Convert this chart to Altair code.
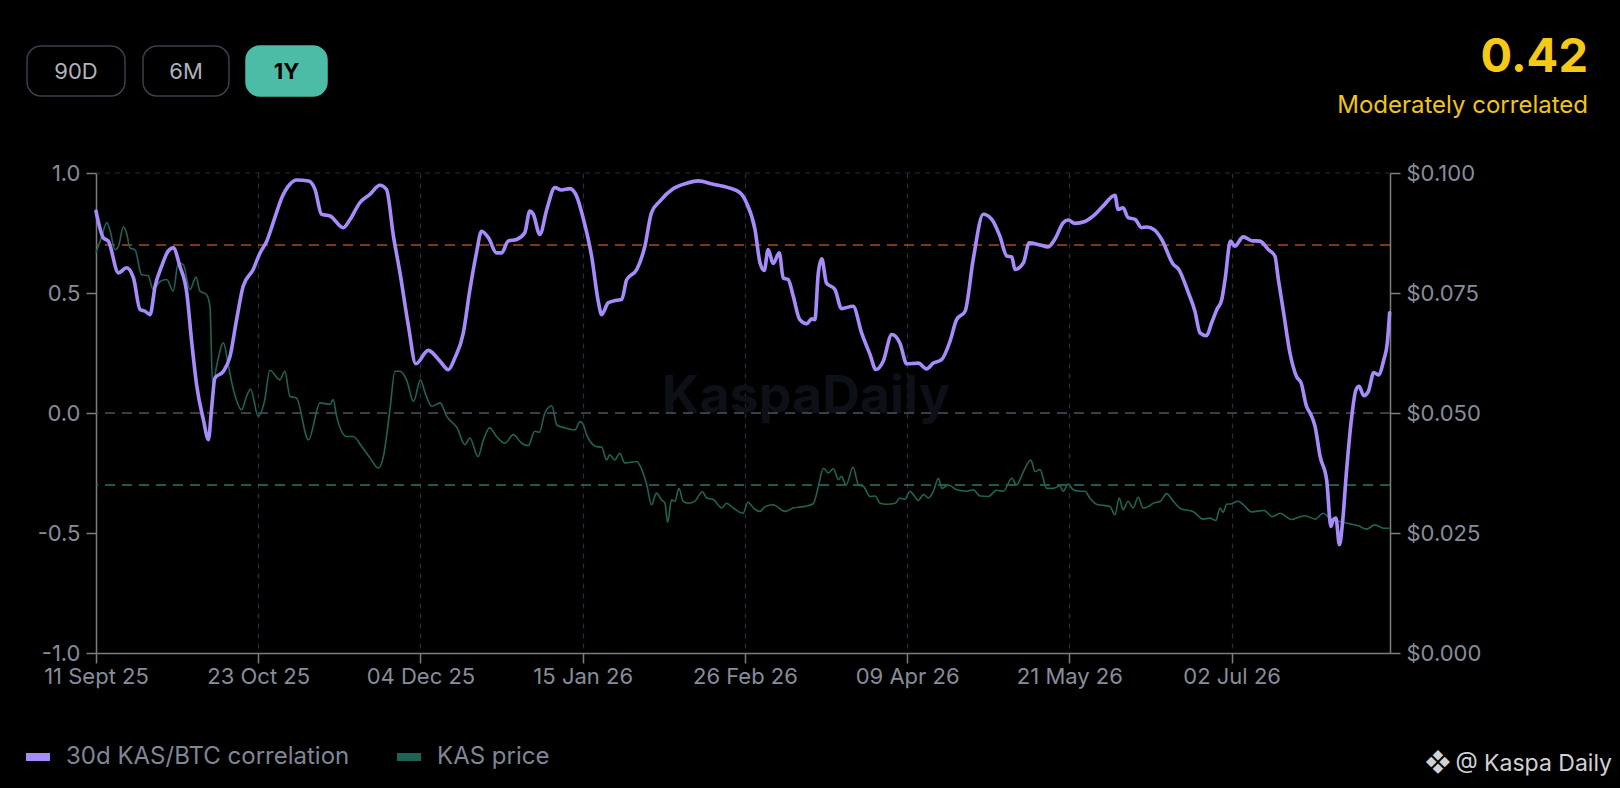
import altair as alt
import pandas as pd
import jinja2

# ---------------- data (x = days since 11 Sept 2025) ----------------
corr_days = [
    0, 1.9, 3.2, 5.8, 7.9, 9.7, 11.4, 12.7, 14.0, 15.3,
    17.0, 18.7, 20.0, 21.7, 23.5, 24.8, 26.1, 27.8, 29.1, 29.9,
    30.8, 33.0, 34.7, 36.4, 38.1, 40.7, 42.5, 44.2, 46.3, 48.1,
    50.2, 51.9, 55.0, 56.7, 58.4, 60.6, 64.0, 65.8, 68.3, 70.9,
    73.5, 75.2, 77.0, 78.7, 80.9, 82.8, 86.0, 89.1, 91.2, 92.9,
    95.1, 96.8, 98.5, 99.8, 101.6, 103.7, 105.0, 106.7, 108.9, 111.0,
    112.3, 113.2, 114.9, 116.7, 118.8, 120.5, 122.7, 124.4, 126.2, 128.3,
    130.1, 130.9, 132.6, 134.8, 136.1, 137.4, 140.0, 142.1, 143.8, 146.0,
    149.5, 152.9, 155.9, 159.8, 163.7, 166.7, 168.4, 170.6, 171.9, 173.0,
    174.0, 175.3, 176.9, 177.9, 179.2, 180.5, 182.2, 184.0, 185.3, 186.1,
    187.0, 187.9, 189.1, 191.3, 193.0, 196.0, 198.2, 200.4, 201.9, 203.8,
    206.0, 208.1, 209.9, 212.9, 215.0, 216.8, 218.9, 221.1, 222.8, 225.0,
    227.1, 229.7, 231.9, 234.0, 235.8, 237.1, 237.9, 240.1, 241.6, 244.4,
    246.5, 248.3, 250.4, 251.7, 253.4, 256.0, 258.2, 260.7, 263.8, 264.6,
    265.9, 267.2, 269.0, 270.7, 272.0, 274.1, 275.9, 278.9, 280.2, 282.8,
    284.5, 285.8, 287.5, 288.8, 290.3, 291.4, 292.3, 293.7, 294.8, 297.0,
    299.2, 301.3, 303.5, 305.2, 306.1, 307.4, 309.1, 310.8, 312.0, 313.4,
    314.3, 315.6, 316.9, 318.6, 319.7, 320.3, 321.0, 321.9, 322.7, 323.7,
    325.0, 326.2, 327.0, 328.2, 329.4, 330.8, 332.0, 333.4, 334.3, 334.9,
]
corr_values = [
    0.841, 0.730, 0.716, 0.584, 0.605, 0.563, 0.431, 0.424, 0.410, 0.528,
    0.612, 0.675, 0.688, 0.612, 0.501, 0.292, 0.111, -0.028, -0.111, 0.014,
    0.146, 0.174, 0.236, 0.389, 0.528, 0.598, 0.668, 0.716, 0.814, 0.897,
    0.953, 0.971, 0.967, 0.932, 0.828, 0.821, 0.772, 0.807, 0.876, 0.911,
    0.949, 0.932, 0.737, 0.584, 0.361, 0.205, 0.261, 0.215, 0.180, 0.229,
    0.334, 0.514, 0.667, 0.757, 0.730, 0.667, 0.667, 0.716, 0.723, 0.751,
    0.841, 0.828, 0.744, 0.848, 0.939, 0.929, 0.935, 0.904, 0.807, 0.654,
    0.459, 0.410, 0.459, 0.470, 0.473, 0.556, 0.598, 0.695, 0.834, 0.883,
    0.935, 0.957, 0.967, 0.953, 0.939, 0.918, 0.876, 0.765, 0.626, 0.594,
    0.681, 0.623, 0.668, 0.563, 0.556, 0.487, 0.389, 0.372, 0.392, 0.389,
    0.584, 0.642, 0.542, 0.515, 0.435, 0.445, 0.334, 0.243, 0.181, 0.216,
    0.327, 0.292, 0.205, 0.208, 0.184, 0.208, 0.222, 0.299, 0.389, 0.424,
    0.640, 0.828, 0.807, 0.737, 0.654, 0.650, 0.598, 0.626, 0.709, 0.700,
    0.692, 0.726, 0.793, 0.804, 0.790, 0.798, 0.821, 0.862, 0.907, 0.848,
    0.855, 0.814, 0.807, 0.772, 0.775, 0.762, 0.723, 0.619, 0.601, 0.501,
    0.424, 0.334, 0.322, 0.375, 0.435, 0.470, 0.556, 0.716, 0.695, 0.734,
    0.718, 0.716, 0.681, 0.654, 0.556, 0.424, 0.250, 0.152, 0.125, 0.027,
    0.0, -0.056, -0.181, -0.279, -0.473, -0.445, -0.438, -0.549, -0.459, -0.251,
    -0.028, 0.097, 0.111, 0.072, 0.090, 0.169, 0.159, 0.222, 0.292, 0.417,
]

price_days = [
    0, 1.5, 2.8, 3.6, 4.9, 5.8, 7.1, 7.9, 8.8, 10.1,
    11.8, 13.5, 14.8, 16.6, 18.3, 20.0, 21.3, 22.6, 24.3, 25.9,
    26.9, 28.6, 29.5, 30.2, 31.2, 33.0, 34.3, 35.6, 37.7, 39.0,
    40.0, 42.0, 43.7, 45.0, 47.6, 48.9, 50.2, 51.9, 55.0, 58.0,
    60.6, 61.4, 62.3, 64.9, 66.6, 68.8, 71.0, 73.1, 74.4, 76.1,
    77.4, 78.7, 80.4, 82.2, 84.0, 85.2, 86.9, 89.1, 90.8, 93.5,
    95.5, 96.8, 98.9, 100.3, 101.9, 103.7, 105.9, 108.0, 110.2, 111.9,
    113.6, 114.8, 116.2, 118.0, 119.3, 121.4, 124.0, 125.3, 126.2, 127.0,
    129.6, 130.9, 132.2, 133.0, 134.3, 135.6, 136.9, 140.0, 141.3, 142.6,
    143.8, 145.1, 146.4, 147.3, 148.0, 149.0, 149.9, 150.9, 152.0, 153.3,
    155.0, 157.0, 158.1, 159.8, 162.0, 163.2, 165.0, 167.5, 168.8, 170.2,
    171.9, 173.2, 175.3, 178.4, 180.5, 183.1, 185.7, 187.0, 188.3, 189.6,
    190.9, 192.2, 193.0, 194.2, 196.0, 197.4, 198.7, 200.4, 201.7, 203.0,
    204.7, 206.9, 208.1, 209.4, 210.7, 211.6, 212.9, 214.2, 215.5, 216.8,
    218.1, 219.0, 220.7, 222.8, 225.4, 227.1, 228.9, 231.0, 233.2, 234.9,
    237.1, 238.3, 240.1, 242.0, 243.1, 244.4, 246.1, 247.8, 249.5, 250.4,
    251.7, 253.0, 254.7, 256.0, 257.3, 259.0, 262.5, 263.8, 264.9, 265.9,
    267.2, 268.5, 269.8, 271.1, 272.4, 273.7, 275.5, 277.2, 278.9, 281.0,
    284.0, 286.6, 288.4, 289.9, 291.0, 291.8, 292.7, 294.0, 295.7, 297.0,
    299.2, 302.4, 304.5, 306.5, 309.5, 311.7, 313.0, 315.6, 317.7, 319.4,
    322.0, 324.6, 326.8, 328.9, 331.1, 333.3, 334.9,
]
price_values = [
    0.0834, 0.0868, 0.0897, 0.0882, 0.0840, 0.0847, 0.0888, 0.0875, 0.0844, 0.0840,
    0.0788, 0.0786, 0.0757, 0.0774, 0.0778, 0.0754, 0.0813, 0.0809, 0.0757, 0.0783,
    0.0754, 0.0747, 0.0722, 0.0555, 0.0597, 0.0646, 0.0597, 0.0548, 0.0507, 0.0535,
    0.0550, 0.0493, 0.0528, 0.0589, 0.0569, 0.0587, 0.0535, 0.0531, 0.0444, 0.0521,
    0.0518, 0.0528, 0.0493, 0.0451, 0.0451, 0.0430, 0.0406, 0.0385, 0.0409, 0.0507,
    0.0587, 0.0587, 0.0569, 0.0524, 0.0569, 0.0542, 0.0514, 0.0521, 0.0493, 0.0469,
    0.0434, 0.0448, 0.0409, 0.0444, 0.0469, 0.0451, 0.0437, 0.0455, 0.0437, 0.0432,
    0.0462, 0.0460, 0.0500, 0.0515, 0.0475, 0.0469, 0.0465, 0.0482, 0.0475, 0.0455,
    0.0430, 0.0429, 0.0402, 0.0413, 0.0402, 0.0416, 0.0396, 0.0399, 0.0382, 0.0350,
    0.0309, 0.0333, 0.0319, 0.0312, 0.0272, 0.0319, 0.0316, 0.0343, 0.0316, 0.0312,
    0.0316, 0.0336, 0.0323, 0.0320, 0.0302, 0.0312, 0.0302, 0.0291, 0.0314, 0.0302,
    0.0295, 0.0305, 0.0309, 0.0295, 0.0302, 0.0305, 0.0311, 0.0347, 0.0385, 0.0375,
    0.0384, 0.0361, 0.0368, 0.0350, 0.0387, 0.0350, 0.0347, 0.0326, 0.0327, 0.0312,
    0.0310, 0.0312, 0.0323, 0.0320, 0.0337, 0.0330, 0.0318, 0.0330, 0.0323, 0.0337,
    0.0364, 0.0343, 0.0350, 0.0340, 0.0337, 0.0340, 0.0327, 0.0326, 0.0339, 0.0337,
    0.0364, 0.0350, 0.0378, 0.0402, 0.0378, 0.0382, 0.0343, 0.0343, 0.0348, 0.0337,
    0.0352, 0.0340, 0.0337, 0.0337, 0.0323, 0.0310, 0.0305, 0.0288, 0.0323, 0.0298,
    0.0316, 0.0302, 0.0325, 0.0302, 0.0305, 0.0312, 0.0316, 0.0332, 0.0316, 0.0300,
    0.0295, 0.0279, 0.0281, 0.0276, 0.0302, 0.0293, 0.0310, 0.0311, 0.0316, 0.0309,
    0.0294, 0.0297, 0.0284, 0.0291, 0.0278, 0.0284, 0.0286, 0.0279, 0.0291, 0.0281,
    0.0274, 0.0269, 0.0265, 0.0258, 0.0267, 0.0260, 0.0260,
]

tick_days = [0, 42, 84, 126, 168, 210, 252, 294]
tick_labels = ["11 Sept 25", "23 Oct 25", "04 Dec 25", "15 Jan 26",
               "26 Feb 26", "09 Apr 26", "21 May 26", "02 Jul 26"]
x_domain = [0, 335]
corr_ticks = [-1.0, -0.5, 0.0, 0.5, 1.0]
price_ticks = [0.0, 0.025, 0.05, 0.075, 0.1]
strong_level = 0.7
weak_level = -0.3
series_names = ["30d KAS/BTC correlation", "KAS price"]
range_buttons = ["90D", "6M", "1Y"]
active_button = "1Y"
status_text = "Moderately correlated"
watermark_text = "KaspaDaily"
credit_text = "@ Kaspa Daily"

# ---------------- styling ----------------
FONT = "Inter"
AXIS_GREY = "#7d7d7d"
LABEL_GREY = "#878d9a"
PURPLE = "#a78bfa"
GREEN = "#1e6454"
AXIS_FS = 22

corr_df = pd.DataFrame({"day": corr_days, "corr": corr_values})
corr_df["series"] = series_names[0]
price_df = pd.DataFrame({"day": price_days, "price": price_values})
price_df["series"] = series_names[1]

label_expr = ("[" + ",".join(f"'{t}'" for t in tick_labels) + "][indexof(["
              + ",".join(str(d) for d in tick_days) + "], datum.value)]")

x_enc = alt.X(
    "day:Q",
    scale=alt.Scale(domain=x_domain, nice=False, zero=False),
    axis=alt.Axis(values=tick_days, labelExpr=label_expr, title=None,
                  grid=True, gridColor="#272d3c", gridDash=[5, 5], gridWidth=1.2,
                  domainColor=AXIS_GREY, domainWidth=1.5,
                  tickColor=AXIS_GREY, tickWidth=1.5, tickSize=10,
                  labelColor=LABEL_GREY, labelFont=FONT, labelFontSize=AXIS_FS,
                  labelPadding=3, labelFlush=False, labelOverlap=False),
)

color_scale = alt.Scale(domain=series_names, range=[PURPLE, GREEN])
legend = alt.Legend(orient="none", legendX=-74, legendY=568, direction="horizontal",
                    title=None, symbolType="stroke", symbolStrokeWidth=8,
                    symbolSize=576, labelFont=FONT, labelFontSize=24,
                    labelColor="#7f8696", labelOffset=12, columnPadding=31,
                    labelLimit=600, padding=0)
color_enc = alt.Color("series:N", scale=color_scale, legend=legend)

corr_scale = alt.Scale(domain=[-1, 1], nice=False, zero=False)

def level_rule(v, color, dash, width):
    return alt.Chart(pd.DataFrame({"v": [v]})).mark_rule(
        color=color, strokeDash=dash, strokeWidth=width
    ).encode(y=alt.Y("v:Q", scale=corr_scale, axis=None))

rules = alt.layer(
    level_rule(1.0, "#272d3c", [5, 5], 1.2),
    level_rule(0.0, "#4d515d", [10, 7], 1.5),
    level_rule(strong_level, "#a84b14", [10, 7], 1.5),
    level_rule(weak_level, "#2a7567", [10, 7], 1.5),
)

price_line = alt.Chart(price_df).mark_line(
    interpolate="monotone", strokeWidth=1.6
).encode(
    x=x_enc,
    y=alt.Y("price:Q", scale=alt.Scale(domain=[0, 0.1], nice=False, zero=False),
            axis=alt.Axis(orient="right", values=price_ticks, format="$.3f",
                          title=None, grid=False, domainColor=AXIS_GREY,
                          domainWidth=1.5, tickColor=AXIS_GREY, tickWidth=1.5,
                          tickSize=10, labelColor=LABEL_GREY, labelFont=FONT,
                          labelFontSize=AXIS_FS, labelPadding=6)),
    color=color_enc,
)

corr_line = alt.Chart(corr_df).mark_line(
    interpolate="monotone", strokeWidth=3.6, strokeCap="round", strokeJoin="round"
).encode(
    x=x_enc,
    y=alt.Y("corr:Q", scale=corr_scale,
            axis=alt.Axis(orient="left", values=corr_ticks,
                          labelExpr="(datum.value < 0 ? '-' : '') + format(abs(datum.value), '.1f')",
                          title=None, grid=False, domainColor=AXIS_GREY,
                          domainWidth=1.5, tickColor=AXIS_GREY, tickWidth=1.5,
                          tickSize=10, labelColor=LABEL_GREY, labelFont=FONT,
                          labelFontSize=AXIS_FS, labelPadding=6)),
    color=color_enc,
)

def text_mark(text, x, y, **kw):
    return alt.Chart(pd.DataFrame({"t": [text]})).mark_text(font=FONT, **kw).encode(
        x=alt.value(x), y=alt.value(y), text="t:N")

watermark = text_mark(watermark_text, 710, 224, fontSize=52, fontWeight="bold",
                      color="#0d1017", align="center", baseline="middle")

header_value = text_mark(f"{corr_values[-1]:.2f}", 1492, -101, fontSize=47,
                         fontWeight="bold", color="#f6c915", align="right",
                         baseline="alphabetic")
header_status = text_mark(status_text, 1492, -60, fontSize=24, color="#f2c417",
                          align="right", baseline="alphabetic")

button_boxes = [(-69, 29), (47, 133), (150, 231)]
button_layers = []
for label, (bx0, bx1) in zip(range_buttons, button_boxes):
    active = label == active_button
    box = alt.Chart(pd.DataFrame({"t": [label]})).mark_rect(
        cornerRadius=14,
        fill="#4cbca6" if active else "#000000",
        stroke="#4cbca6" if active else "#3a3f4b",
        strokeWidth=1.5,
    ).encode(x=alt.value(bx0), x2=alt.value(bx1), y=alt.value(-127), y2=alt.value(-77))
    txt = text_mark(label, (bx0 + bx1) / 2, -101, fontSize=22,
                    fontWeight="bold" if active else "normal",
                    color="#000000" if active else "#aeb3bb",
                    align="center", baseline="middle")
    button_layers += [box, txt]

credit = text_mark(credit_text, 1516, 598, fontSize=23, color="#cfd1d5",
                   align="right", baseline="alphabetic")
credit_icon = text_mark("\u2756", 1342, 590, fontSize=25, color="#cfd1d5",
                        align="center", baseline="middle")

chart = alt.layer(
    watermark, rules, price_line, corr_line,
    header_value, header_status, *button_layers, credit, credit_icon,
).resolve_scale(y="independent").properties(
    width=1294, height=480,
    autosize=alt.AutoSizeParams(type="none"),
    padding={"left": 88, "top": 165, "right": 222, "bottom": 127},
    background="#000000",
).configure_view(strokeWidth=0)

# same page as Altair's standard one, with a black page background
PAGE = jinja2.Template("""<!DOCTYPE html>
<html>
<head>
  <meta charset="utf-8">
  <style>
    html, body { background: #000000; }
    #{{ output_div }}.vega-embed { width: 100%; display: flex; }
  </style>
  <script type="text/javascript" src="{{ base_url }}/vega@{{ vega_version }}"></script>
  <script type="text/javascript" src="{{ base_url }}/vega-lite@{{ vegalite_version }}"></script>
  <script type="text/javascript" src="{{ base_url }}/vega-embed@{{ vegaembed_version }}"></script>
</head>
<body>
  <div id="{{ output_div }}"></div>
  <script>
    (function(vegaEmbed) {
      var spec = {{ spec }};
      var embedOpt = {{ embed_options }};
      vegaEmbed("#{{ output_div }}", spec, embedOpt);
    })(vegaEmbed);
  </script>
</body>
</html>""")

try:
    chart.save("out.html", embed_options={"renderer": "svg", "actions": False},
               template=PAGE)
except Exception:
    chart.save("out.html", embed_options={"renderer": "svg", "actions": False})
